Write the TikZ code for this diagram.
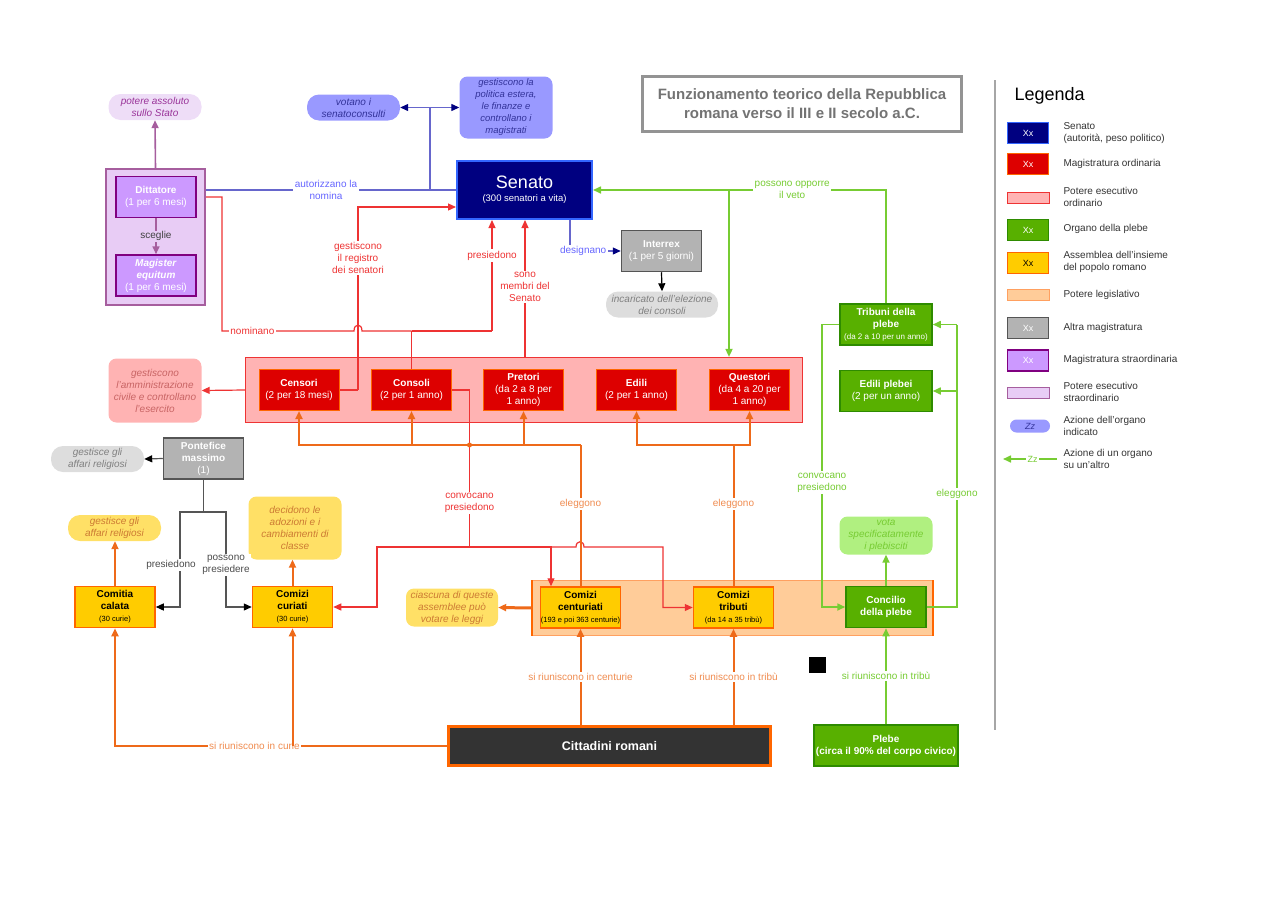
\documentclass[tikz,border=0pt]{standalone}
\usepackage{fontspec}
\setmainfont{Liberation Sans}
\usepackage{tikz}
\usetikzlibrary{arrows.meta,positioning,calc}

\definecolor{senblue}{HTML}{000080}
\definecolor{senedge}{HTML}{3366FF}
\definecolor{actblue}{HTML}{9999FF}
\definecolor{linblue}{HTML}{6666CC}
\definecolor{txtblue}{HTML}{6666FF}
\definecolor{magred}{HTML}{DD0000}
\definecolor{magedge}{HTML}{FF6600}
\definecolor{pinkfill}{HTML}{FFB3B3}
\definecolor{linred}{HTML}{EE3333}
\definecolor{admintext}{HTML}{C86464}
\definecolor{plgreen}{HTML}{58B000}
\definecolor{pledge}{HTML}{2E8B00}
\definecolor{lingreen}{HTML}{77CC33}
\definecolor{votagreen}{HTML}{B0F080}
\definecolor{assyellow}{HTML}{FFCC00}
\definecolor{linorange}{HTML}{EE6A1A}
\definecolor{txtorange}{HTML}{F08C50}
\definecolor{legfill}{HTML}{FFCC99}
\definecolor{legedge}{HTML}{FFA060}
\definecolor{pillyellow}{HTML}{FFE066}
\definecolor{pilltext}{HTML}{CC7A33}
\definecolor{othgray}{HTML}{B3B3B3}
\definecolor{othedge}{HTML}{555555}
\definecolor{pillgray}{HTML}{DDDDDD}
\definecolor{strpurple}{HTML}{CC99FF}
\definecolor{stredge}{HTML}{800080}
\definecolor{strfill}{HTML}{E8CCF5}
\definecolor{strline}{HTML}{A65E9E}
\definecolor{pilllilac}{HTML}{EEDDF7}
\definecolor{txtpurple}{HTML}{993399}

\begin{document}
\begin{tikzpicture}[
    x=1pt, y=-1pt,
    box/.style={draw, line width=1.5pt, minimum width=80pt, minimum height=41pt, inner sep=0pt, align=center, font=\normalsize},
    senbox/.style={box, fill=senblue, draw=senedge, text=white},
    magbox/.style={box, fill=magred, draw=magedge, line width=1pt, text=white},
    plebox/.style={box, fill=plgreen, draw=pledge, text=white},
    assbox/.style={box, fill=assyellow, draw=magedge, text=black},
    othbox/.style={box, fill=othgray, draw=othedge, text=white},
    strbox/.style={box, fill=strpurple, draw=stredge, text=white},
    pill/.style={rounded corners=12pt, inner sep=0pt, align=center, font=\itshape, minimum height=26pt, minimum width=93pt},
    note/.style={rounded corners=8pt, inner sep=0pt, align=center, font=\itshape, minimum width=93pt},
    lbl/.style={fill=white, inner sep=1.5pt, align=center, font=\normalsize},
    rlbl/.style={lbl, text=linred},
    olbl/.style={lbl, text=txtorange},
    glbl/.style={lbl, text=lingreen},
    blbl/.style={lbl, text=txtblue},
    arrow/.style={-{Triangle[length=8pt,width=7pt]}},
    bluarrow/.style={-{Triangle[length=8pt,width=7pt,color=senblue]}},
    blkarrow/.style={-{Triangle[length=8pt,width=7pt,color=black]}},
    redline/.style={draw=linred, line width=1.2pt},
    orline/.style={draw=linorange, line width=2pt},
    grline/.style={draw=lingreen, line width=1.6pt},
    bluline/.style={draw=linblue, line width=1.2pt},
    gryline/.style={draw=othedge, line width=1.2pt},
    purline/.style={draw=strline, line width=1.6pt},
    swatch/.style={minimum width=41pt, minimum height=21pt, font=\small},
    lgtxt/.style={anchor=west, align=left, font=\normalsize, text=black!80}
]
\useasboundingbox (0,0) rectangle (1280,905);

% Title
\node[draw=gray!85, line width=3pt, minimum width=319pt, minimum height=55pt, align=center, text=black!55, font=\fontsize{15}{19}\selectfont\bfseries] (title) at (802,104) {Funzionamento teorico della Repubblica\\romana verso il III e II secolo a.C.};

% Legend
\draw[line width=2.5pt, gray!70] (995,80) -- (995,730);
\node[anchor=west, font=\fontsize{18}{20}\selectfont] (lgtitle) at (1011,96) {Legenda};
\node[senbox, swatch] (lg1) at (1028,133) {Xx};
\node[lgtxt] at (1060,133) {Senato\\(autorità, peso politico)};
\node[magbox, swatch] (lg2) at (1028,164) {Xx};
\node[lgtxt] at (1060,164) {Magistratura ordinaria};
\node[draw=linred, fill=pinkfill, minimum width=42pt, minimum height=11pt] (lg3) at (1028,197.5) {};
\node[lgtxt] at (1060,197) {Potere esecutivo\\ordinario};
\node[plebox, swatch] (lg4) at (1028,230) {Xx};
\node[lgtxt] at (1060,229) {Organo della plebe};
\node[assbox, swatch] (lg5) at (1028,263) {Xx};
\node[lgtxt] at (1060,262) {Assemblea dell'insieme\\del popolo romano};
\node[draw=legedge, fill=legfill, minimum width=42pt, minimum height=11pt] (lg6) at (1028,295) {};
\node[lgtxt] at (1060,295) {Potere legislativo};
\node[othbox, swatch] (lg7) at (1028,328) {Xx};
\node[lgtxt] at (1060,328) {Altra magistratura};
\node[strbox, swatch] (lg8) at (1028,360.5) {Xx};
\node[lgtxt] at (1060,360) {Magistratura straordinaria};
\node[draw=strline, fill=strfill, minimum width=42pt, minimum height=11pt] (lg9) at (1028,392.5) {};
\node[lgtxt] at (1060,392) {Potere esecutivo\\straordinario};
\node[pill, fill=actblue, text=senblue!80, minimum width=40pt, minimum height=13pt, rounded corners=6.5pt, font=\small\itshape] (lg10) at (1030,426) {Zz};
\node[lgtxt] at (1060,426) {Azione dell'organo\\indicato};
\coordinate (lga) at (1057,459);
\coordinate (lgb) at (1003,459);
\draw[grline, arrow] (lga) -- node[pos=0.45, glbl, font=\small]{Zz} (lgb);
\node[lgtxt] at (1060,459) {Azione di un organo\\su un'altro};

% Senate
\node[senbox, line width=2pt, minimum width=135pt, minimum height=58pt] (sen) at (524.5,190) {{\fontsize{18}{22}\selectfont Senato}\\[1pt]{\fontsize{9.5}{11}\selectfont(300 senatori a vita)}};
\node[pill, fill=actblue, text=senblue!80] (votano) at (353.5,107.5) {votano i\\senatoconsulti};
\node[note, fill=actblue, text=senblue!80, minimum height=62pt, font=\fontsize{9.5}{12}\selectfont\itshape] (politica) at (506,107.5) {gestiscono la\\politica estera,\\le finanze e\\controllano i\\magistrati};

% Dictator
\node[draw=strline, fill=strfill, line width=2pt, minimum width=99pt, minimum height=136pt] (dictgrp) at (155.5,237) {};
\node[strbox] (ditt) at (156,197) {\textbf{Dittatore}\\(1 per 6 mesi)};
\node[strbox] (magi) at (156,275.5) {\textbf{\textit{Magister}}\\\textbf{\textit{equitum}}\\(1 per 6 mesi)};
\node[pill, fill=pilllilac, text=txtpurple] (potere) at (155,107) {potere assoluto\\sullo Stato};

% Interrex
\node[othbox] (interrex) at (661.5,251) {\textbf{Interrex}\\(1 per 5 giorni)};
\node[pill, fill=pillgray, text=gray, minimum width=112pt] (incar) at (662,304.5) {incaricato dell'elezione\\dei consoli};

% Ordinary magistrates
\node[draw=linred, fill=pinkfill, line width=1.2pt, minimum width=557pt, minimum height=65pt] (maggrp) at (524,390) {};
\node[magbox] (cens) at (299,390) {\textbf{Censori}\\(2 per 18 mesi)};
\node[magbox] (cons) at (411.5,390) {\textbf{Consoli}\\(2 per 1 anno)};
\node[magbox] (pret) at (523.5,390) {\textbf{Pretori}\\(da 2 a 8 per\\1 anno)};
\node[magbox] (edil) at (636.5,390) {\textbf{Edili}\\(2 per 1 anno)};
\node[magbox] (quest) at (749.5,390) {\textbf{Questori}\\(da 4 a 20 per\\1 anno)};
\node[note, fill=pinkfill, text=admintext, minimum height=64pt] (admin) at (155,390.5) {gestiscono\\l'amministrazione\\civile e controllano\\l'esercito};

% Plebeian magistrates
\node[plebox, minimum width=92pt] (trib) at (886,324.5) {\textbf{Tribuni della}\\\textbf{plebe}\\{\footnotesize(da 2 a 10 per un anno)}};
\node[plebox, minimum width=92pt] (ediplb) at (886,391) {\textbf{Edili plebei}\\(2 per un anno)};

% Pontifex
\node[othbox] (pont) at (203.5,458.5) {\textbf{Pontefice}\\\textbf{massimo}\\(1)};
\node[pill, fill=pillgray, text=gray] (pgest) at (97.5,459) {gestisce gli\\affari religiosi};

% Assemblies
\node[draw=legedge, fill=legfill, line width=1pt, minimum width=400pt, minimum height=55pt] (leg) at (732.5,608) {};
\draw[line width=2.5pt, magedge] (leg.north west) -- (leg.south west);
\draw[line width=2.5pt, magedge] (leg.north east) -- (leg.south east);
\node[assbox] (calata) at (115,607) {\textbf{Comitia}\\\textbf{calata}\\{\fontsize{7.5}{9}\selectfont(30 curie)}};
\node[assbox] (curiati) at (292.5,607) {\textbf{Comizi}\\\textbf{curiati}\\{\fontsize{7.5}{9}\selectfont(30 curie)}};
\node[assbox] (centur) at (580.5,607.5) {\textbf{Comizi}\\\textbf{centuriati}\\{\fontsize{7.5}{9}\selectfont(193 e poi 363 centurie)}};
\node[assbox] (tribu) at (733.5,607.5) {\textbf{Comizi}\\\textbf{tributi}\\{\fontsize{7.5}{9}\selectfont(da 14 a 35 tribù)}};
\node[plebox] (conc) at (886,607) {\textbf{Concilio}\\\textbf{della plebe}};
\node[pill, fill=pillyellow, text=pilltext] (relig) at (114.5,528) {gestisce gli\\affari religiosi};
\node[note, fill=pillyellow, text=pilltext, minimum height=63pt] (decid) at (295,528) {decidono le\\adozioni e i\\cambiamenti di\\classe};
\node[note, fill=pillyellow, text=pilltext, minimum width=92pt, minimum height=38pt] (ciasc) at (452,607.5) {ciascuna di queste\\assemblee può\\votare le leggi};
\node[note, fill=votagreen, text=lingreen, minimum height=38pt] (vota) at (886,535.5) {vota\\specificatamente\\i plebisciti};

% Citizens
\node[box, fill=black!80, draw=magedge, line width=3pt, minimum width=322pt, minimum height=39pt, text=white, font=\fontsize{12.5}{15}\selectfont\bfseries] (citt) at (609.5,746) {Cittadini romani};
\node[plebox, minimum width=144pt] (plebe) at (886,745.5) {\textbf{Plebe}\\\textbf{(circa il 90\% del corpo civico)}};
\fill (809,657) rectangle (826,673);

% Arrows: dictator
\draw[purline, arrow] (dictgrp.north) -- (potere.south);
\draw[purline, arrow] (ditt) -- node[fill=strfill, inner sep=1pt, text=black!75]{sceglie} (magi);

% Arrows: senate
\draw[bluline] (sen.west) -- node[pos=0.52, blbl]{autorizzano la\\nomina} (sen.west -| dictgrp.east);
\coordinate (jb) at (430,190);
\draw[bluline, bluarrow] (jb) |- (votano.east);
\draw[bluline, bluarrow] (jb) |- (politica.west);
\coordinate (desg) at (570,220);
\draw[bluline, bluarrow] (desg) |- node[pos=0.63, blbl]{designano} (interrex.west);
\draw[blkarrow, line width=1.2pt] (interrex.south) -- (incar.north);

% Arrows: magistrates
\coordinate (regs) at ($(sen.west)+(0,17)$);
\coordinate (regx) at (358,390);
\draw[redline] (cens.east) -- (regx);
\draw[redline, arrow] (regx) |- node[pos=0.36, rlbl]{gestiscono\\il registro\\dei senatori} (regs);
\coordinate (nom) at (411.5,331);
\coordinate (pres) at (492,331);
\draw[redline] (cons.north) -- (nom);
\draw[redline] (nom) -- (362,331) .. controls (362,323) and (354,323) .. (354,331) -- node[pos=0.77, rlbl]{nominano} (222,331) |- (dictgrp.east |- ditt);
\draw[redline] (nom) -- (pres);
\draw[redline, arrow] (pres) -- node[pos=0.68, rlbl]{presiedono} (pres |- sen.south);
\coordinate (memb) at (525,357);
\draw[redline, arrow] (memb) -- node[pos=0.51, rlbl]{sono\\membri del\\Senato} (memb |- sen.south);
\draw[redline, arrow] (maggrp.west) -- (admin.east);

% Arrows: convocation
\coordinate (conv) at (469.5,547);
\coordinate (cvl) at (377,547);
\coordinate (cvr) at (663,547);
\draw[redline] (cons.east) -| node[pos=0.86, rlbl]{convocano\\presiedono} (conv);
\draw[redline, arrow] (conv) -- (cvl) |- (curiati.east);
\draw[redline, arrow] (conv) -| ([xshift=-29.5pt]centur.north);
\draw[redline, arrow] (conv) -- (576,547) .. controls (576,540) and (584,540) .. (584,547) -- (cvr) |- (tribu.west);

% Arrows: elections
\coordinate (elc) at (580.5,445);
\coordinate (elt) at (733.5,445);
\fill[linorange] (conv |- elc) circle (2.5);
\draw[orline] (centur.north) -- node[pos=0.58, olbl]{eleggono} (elc);
\draw[orline, arrow] (elc) -| (cens.south);
\draw[orline, arrow] (elc) -| (cons.south);
\draw[orline, arrow] (elc) -| (pret.south);
\draw[orline] (tribu.north) -- node[pos=0.58, olbl]{eleggono} (elt);
\draw[orline, arrow] (elt) -| (edil.south);
\draw[orline, arrow] (elt) -| (quest.south);

% Arrows: citizens
\draw[orline, arrow] (citt.north -| centur) -- node[pos=0.5, olbl]{si riuniscono in centurie} (centur.south);
\draw[orline, arrow] (citt.north -| tribu) -- node[pos=0.5, olbl]{si riuniscono in tribù} (tribu.south);
\draw[orline, arrow] (citt.west) -| node[pos=0.29, olbl]{si riuniscono in curie} (calata.south);
\draw[orline, arrow] (citt.west -| curiati) -- (curiati.south);
\draw[orline, arrow] (calata.north) -- (calata.north |- relig.south);
\draw[orline, arrow] (curiati.north) -- (curiati.north |- decid.south);
\draw[orline, line width=3pt, arrow] (leg.west) -- (ciasc.east);

% Arrows: pontifex
\draw[gryline, blkarrow] (pont.west) -- (pgest.east);
\coordinate (pj) at (203.5,512);
\coordinate (pjl) at (180,512);
\coordinate (pjr) at (226,512);
\draw[gryline] (pont.south) -- (pj);
\draw[gryline, blkarrow] (pj) -- (pjl) |- node[pos=0.28, lbl, xshift=-9pt, text=black!70]{presiedono} (calata.east);
\draw[gryline, blkarrow] (pj) -- (pjr) |- node[pos=0.28, lbl, text=black!70]{possono\\presiedere} (curiati.west);

% Arrows: plebs
\coordinate (vetom) at (729,190);
\draw[grline, arrow] (trib.north) |- node[pos=0.66, glbl]{possono opporre\\il veto} (sen.east);
\draw[grline, arrow] (vetom) -- (vetom |- maggrp.north);
\coordinate (tcl) at (822,324.5);
\coordinate (tcr) at (957,607);
\draw[grline, arrow] (trib.west) -- (tcl) |- node[pos=0.28, glbl]{convocano\\presiedono} (conc.west);
\draw[grline] (conc.east) -- (tcr) -- node[pos=0.4, glbl]{eleggono} (tcr |- trib);
\draw[grline, arrow] (tcr |- trib) -- (trib.east);
\draw[grline, arrow] (tcr |- ediplb) -- (ediplb.east);
\draw[grline, arrow] (conc.north) -- (vota.south);
\draw[grline, arrow] (plebe.north) -- node[pos=0.5, glbl]{si riuniscono in tribù} (conc.south);

\end{tikzpicture}
\end{document}
